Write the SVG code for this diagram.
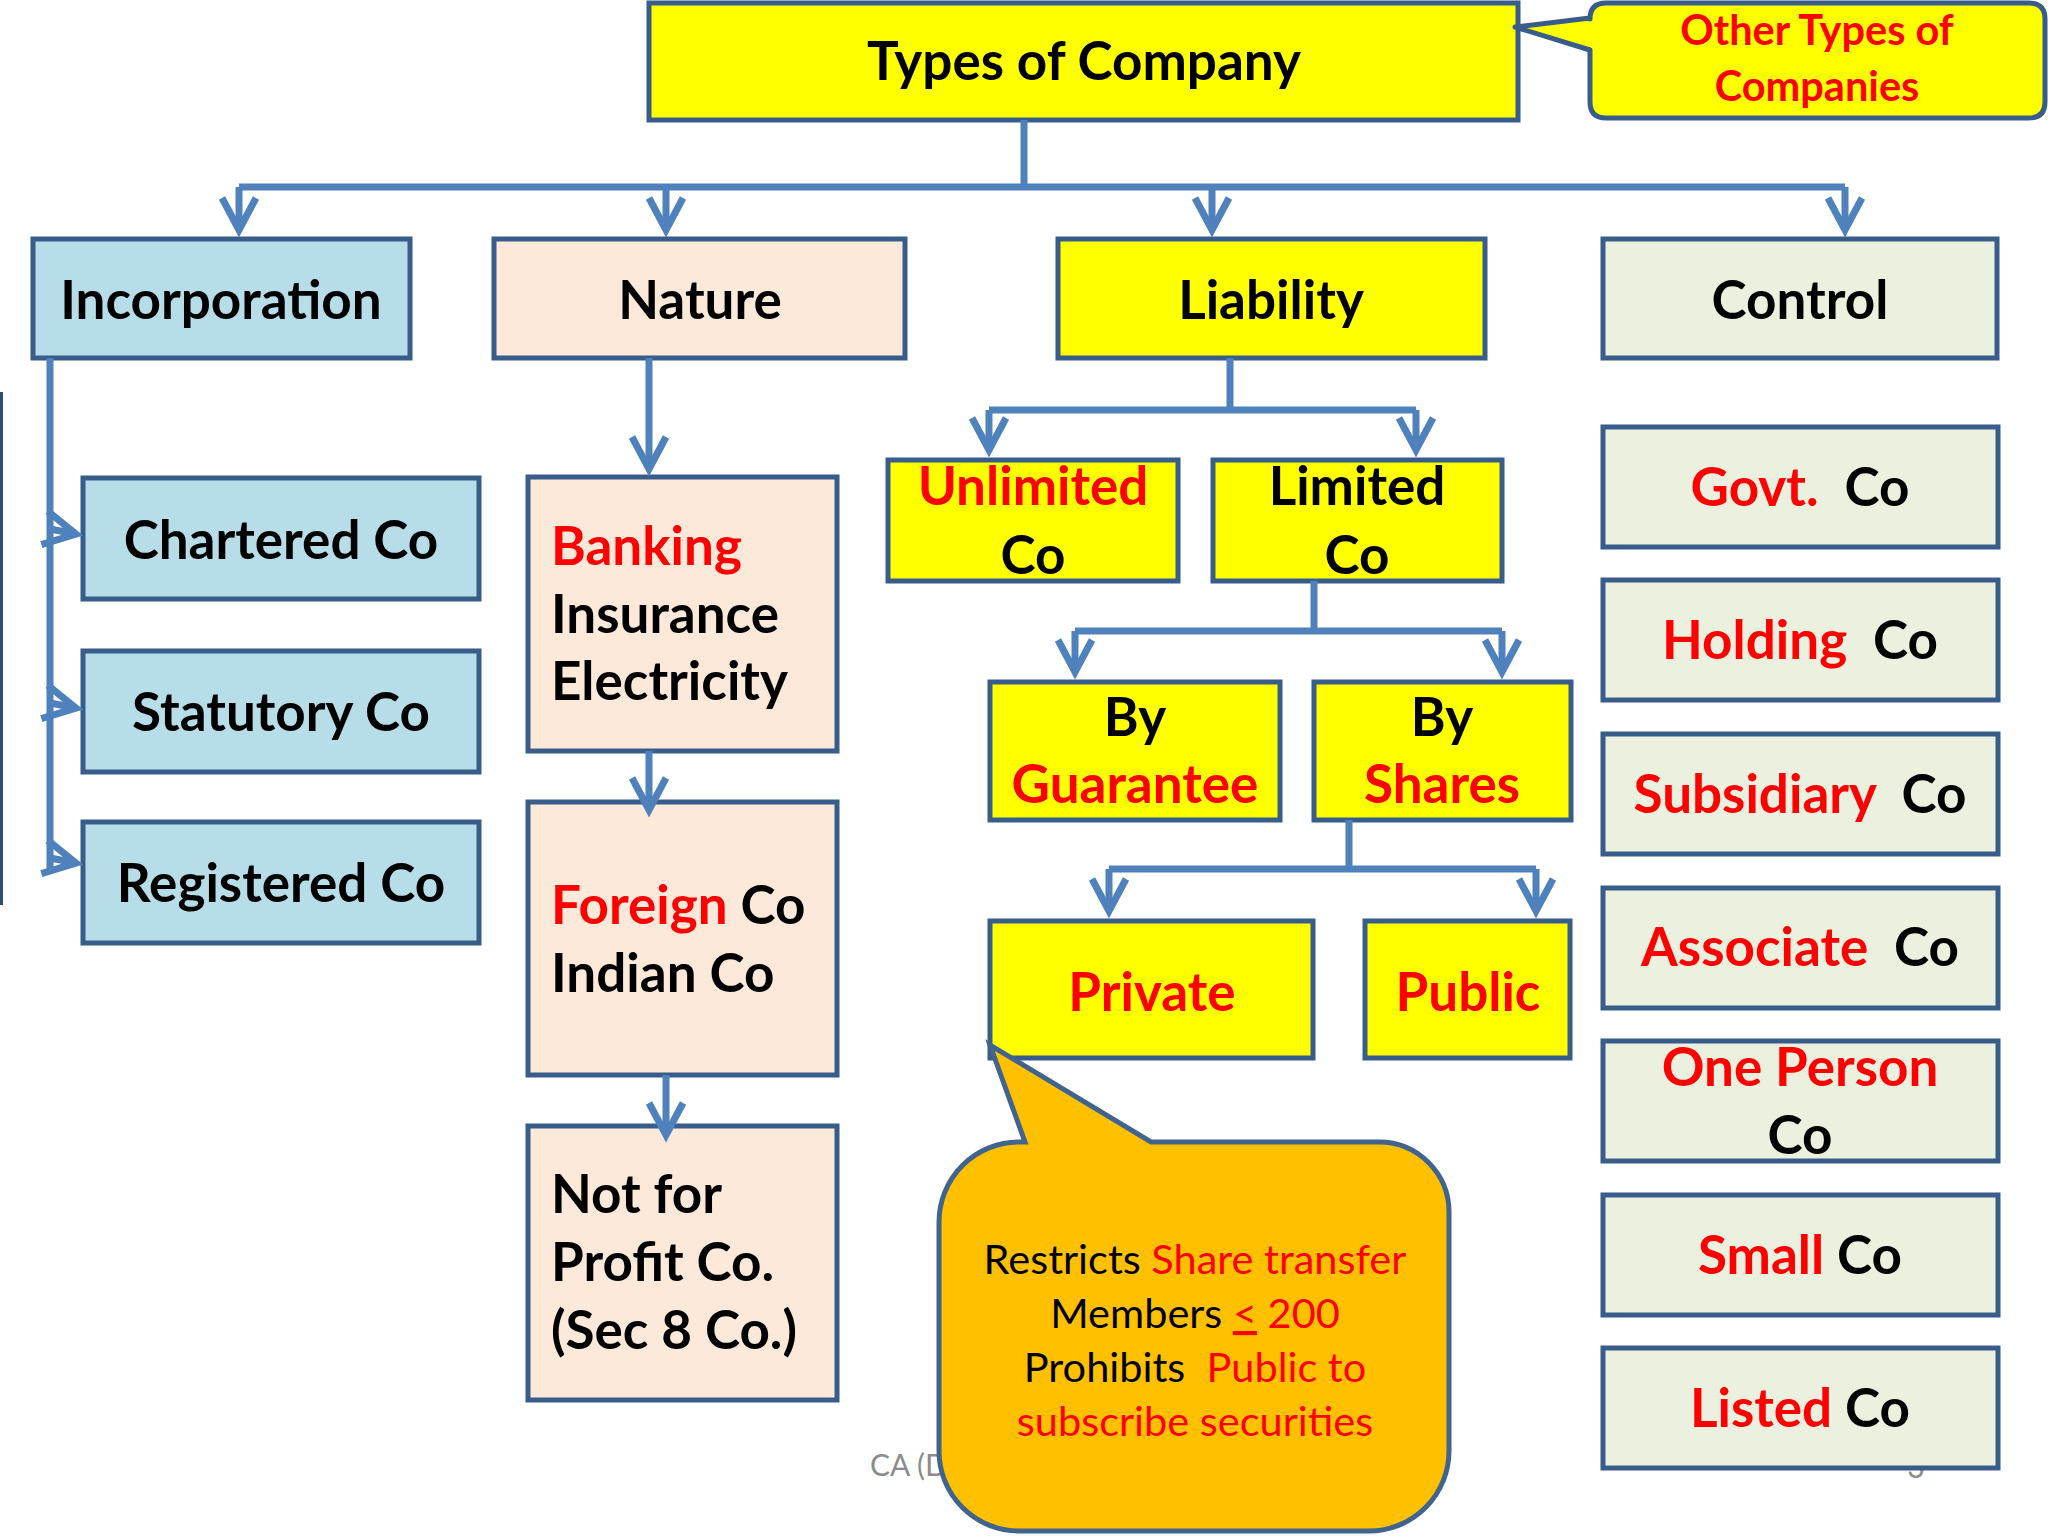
<svg xmlns="http://www.w3.org/2000/svg" width="2048" height="1536" viewBox="0 0 2048 1536">
<style>
.box{stroke:#385D8A;stroke-width:5}
.inc{fill:#B7DEE8}.nat{fill:#FDE9D9}.lia{fill:#FFFF00}.ctl{fill:#EBF1DE}
.b{font-family:Lato,"Open Sans","Liberation Sans",sans-serif;font-weight:700;font-size:53px;fill:#000}
.rg{font-family:Lato,"Open Sans","Liberation Sans",sans-serif;font-weight:400;font-size:41.5px;fill:#000}
.r{fill:#FF0000}
.c{text-anchor:middle}
.conn{fill:none;stroke:#4F81BD;stroke-width:7}
.arr{marker-end:url(#arr)}
</style>
<defs>
<marker id="arr" markerUnits="userSpaceOnUse" markerWidth="60" markerHeight="50" viewBox="0 0 60 50" refX="40" refY="25" orient="auto" overflow="visible">
<path d="M8,8 L40,25 L8,42" fill="none" stroke="#4F81BD" stroke-width="7"/>
</marker>
</defs>
<rect width="2048" height="1536" fill="#FFFFFF"/>
<line x1="1.5" y1="392" x2="1.5" y2="905" stroke="#2F4B73" stroke-width="3"/>
<text x="870" y="1476" font-family="Lato,'Open Sans',sans-serif" font-size="30" fill="#8C8C8C">CA (D</text>
<text x="1916" y="1478" font-family="Lato,'Open Sans',sans-serif" font-size="30" fill="#8C8C8C" text-anchor="middle">3</text>

<g id="types">
<rect class="box lia" x="649" y="3" width="869" height="117"/>
<text class="b c" x="1084" y="80">Types of Company</text>
</g>

<g id="incorporation">
<rect class="box inc" x="33" y="239" width="377" height="119"/>
<text class="b c" x="221" y="319">Incorporation</text>
</g>
<g id="chartered">
<rect class="box inc" x="83" y="478" width="396" height="121"/>
<text class="b c" x="281" y="559">Chartered Co</text>
</g>
<g id="statutory">
<rect class="box inc" x="83" y="651" width="396" height="121"/>
<text class="b c" x="281" y="731">Statutory Co</text>
</g>
<g id="registered">
<rect class="box inc" x="83" y="822" width="396" height="121"/>
<text class="b c" x="281" y="902">Registered Co</text>
</g>

<g id="nature">
<rect class="box nat" x="494" y="239" width="411" height="119"/>
<text class="b c" x="700" y="319">Nature</text>
</g>
<g id="banking">
<rect class="box nat" x="528" y="477" width="309" height="274"/>
<text class="b r" x="551" y="565">Banking</text>
<text class="b" x="551" y="633">Insurance</text>
<text class="b" x="551" y="700">Electricity</text>
</g>
<g id="foreign">
<rect class="box nat" x="528" y="802" width="309" height="273"/>
<text class="b" x="551" y="924"><tspan class="r">Foreign</tspan> Co</text>
<text class="b" x="551" y="992">Indian Co</text>
</g>
<g id="notforprofit">
<rect class="box nat" x="528" y="1126" width="309" height="274"/>
<text class="b" x="551" y="1213">Not for</text>
<text class="b" x="551" y="1281">Profit Co.</text>
<text class="b" x="551" y="1349">(Sec 8 Co.)</text>
</g>

<g id="liability">
<rect class="box lia" x="1058" y="239" width="427" height="119"/>
<text class="b c" x="1271" y="319">Liability</text>
</g>
<g id="unlimited">
<rect class="box lia" x="888" y="460" width="290" height="121"/>
<text class="b c r" x="1033" y="505">Unlimited</text>
<text class="b c" x="1033" y="574">Co</text>
</g>
<g id="limited">
<rect class="box lia" x="1213" y="460" width="289" height="121"/>
<text class="b c" x="1357" y="505">Limited</text>
<text class="b c" x="1357" y="574">Co</text>
</g>
<g id="byguarantee">
<rect class="box lia" x="990" y="682" width="290" height="138"/>
<text class="b c" x="1135" y="736">By</text>
<text class="b c r" x="1135" y="803">Guarantee</text>
</g>
<g id="byshares">
<rect class="box lia" x="1314" y="682" width="257" height="138"/>
<text class="b c" x="1442" y="736">By</text>
<text class="b c r" x="1442" y="803">Shares</text>
</g>
<g id="private">
<rect class="box lia" x="990" y="921" width="323" height="137"/>
<text class="b c r" x="1152" y="1011">Private</text>
</g>
<g id="public">
<rect class="box lia" x="1365" y="921" width="205" height="137"/>
<text class="b c r" x="1468" y="1011">Public</text>
</g>

<g id="control">
<rect class="box ctl" x="1603" y="239" width="394" height="119"/>
<text class="b c" x="1800" y="319">Control</text>
</g>
<g id="govt">
<rect class="box ctl" x="1603" y="427" width="395" height="120"/>
<text class="b c" x="1800" y="506" xml:space="preserve"><tspan class="r">Govt.</tspan>  Co</text>
</g>
<g id="holding">
<rect class="box ctl" x="1603" y="580" width="395" height="120"/>
<text class="b c" x="1800" y="659" xml:space="preserve"><tspan class="r">Holding</tspan>  Co</text>
</g>
<g id="subsidiary">
<rect class="box ctl" x="1603" y="734" width="395" height="120"/>
<text class="b c" x="1800" y="813" xml:space="preserve"><tspan class="r">Subsidiary</tspan>  Co</text>
</g>
<g id="associate">
<rect class="box ctl" x="1603" y="888" width="395" height="120"/>
<text class="b c" x="1800" y="966" xml:space="preserve"><tspan class="r">Associate</tspan>  Co</text>
</g>
<g id="oneperson">
<rect class="box ctl" x="1603" y="1041" width="395" height="120"/>
<text class="b c r" x="1800" y="1086">One Person</text>
<text class="b c" x="1800" y="1154">Co</text>
</g>
<g id="small">
<rect class="box ctl" x="1603" y="1195" width="395" height="120"/>
<text class="b c" x="1800" y="1274"><tspan class="r">Small</tspan> Co</text>
</g>
<g id="listed">
<rect class="box ctl" x="1603" y="1348" width="395" height="120"/>
<text class="b c" x="1800" y="1427"><tspan class="r">Listed</tspan> Co</text>
</g>

<g id="connectors" class="conn">
<path d="M1024,120 V187 M239,187 H1845"/>
<path class="arr" d="M239,187 V230"/>
<path class="arr" d="M666,187 V230"/>
<path class="arr" d="M1212,187 V230"/>
<path class="arr" d="M1845,187 V230"/>
<path d="M50,358 V872"/>
<path class="arr" d="M50,529 L76,534"/>
<path class="arr" d="M50,703 L76,708"/>
<path class="arr" d="M50,858 L76,863"/>
<path class="arr" d="M649,358 V469"/>
<path class="arr" d="M649,751 V810"/>
<path class="arr" d="M666,1075 V1135"/>
<path d="M1230,358 V410 M989,410 H1416"/>
<path class="arr" d="M989,410 V450"/>
<path class="arr" d="M1416,410 V450"/>
<path d="M1314,581 V631 M1075,631 H1502"/>
<path class="arr" d="M1075,631 V672"/>
<path class="arr" d="M1502,631 V672"/>
<path d="M1349,820 V869 M1109,869 H1536"/>
<path class="arr" d="M1109,869 V911"/>
<path class="arr" d="M1536,869 V911"/>
</g>

<g id="other-types-callout">
<path d="M1606,3 H2029 Q2045,3 2045,19 V102 Q2045,118 2029,118 H1606 Q1590,118 1590,102 V50 L1515,27 L1590,18 V19 Q1590,3 1606,3 Z" fill="#FFFF00" stroke="#385D8A" stroke-width="5" stroke-linejoin="round"/>
<text class="r" x="1817" y="45" font-family="Lato,'Open Sans',sans-serif" font-weight="700" font-size="41.5" text-anchor="middle">Other Types of</text>
<text class="r" x="1817" y="101" font-family="Lato,'Open Sans',sans-serif" font-weight="700" font-size="41.5" text-anchor="middle">Companies</text>
</g>

<g id="private-callout">
<path d="M939,1222 A80,80 0 0 1 1019,1142 H1025 L990,1045 L1151,1142 H1379 A70,70 0 0 1 1449,1212 V1451 A80,80 0 0 1 1369,1531 H1019 A80,80 0 0 1 939,1451 Z" fill="#FFC000" stroke="#41648F" stroke-width="5"/>
<text class="rg c" x="1195" y="1274">Restricts <tspan class="r">Share transfer</tspan></text>
<text class="rg c" x="1195" y="1328">Members <tspan class="r" text-decoration="underline">&lt;</tspan><tspan class="r"> 200</tspan></text>
<text class="rg c" x="1195" y="1382" xml:space="preserve">Prohibits  <tspan class="r">Public to</tspan></text>
<text class="rg c r" x="1195" y="1436">subscribe securities</text>
</g>
</svg>
